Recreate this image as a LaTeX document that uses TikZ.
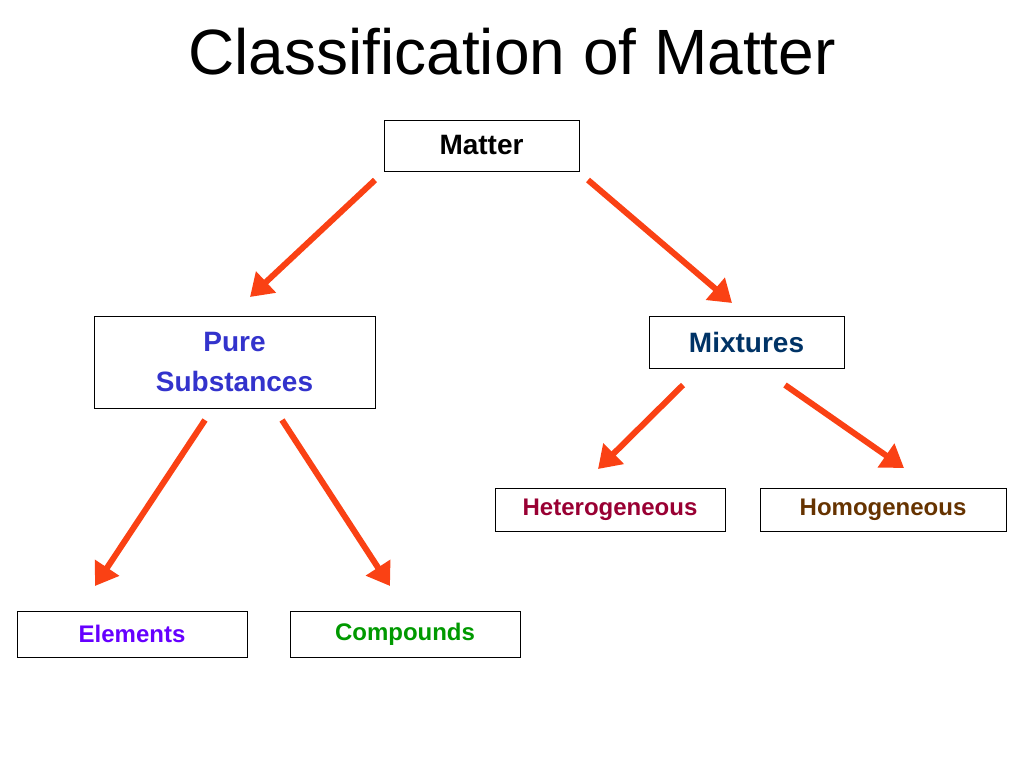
\documentclass[tikz,border=0pt]{standalone}
\usepackage{fontspec}
\setmainfont{Liberation Sans}
\usetikzlibrary{arrows.meta}
\definecolor{arr}{RGB}{250,65,20}
\definecolor{cpure}{RGB}{51,51,204}
\definecolor{cmix}{RGB}{0,51,102}
\definecolor{chet}{RGB}{153,0,51}
\definecolor{chom}{RGB}{102,51,0}
\definecolor{cel}{RGB}{102,0,255}
\definecolor{ccomp}{RGB}{0,153,0}
\begin{document}
\begin{tikzpicture}[x=1pt,y=-1pt,
  box/.style={draw,line width=0.8pt,font=\bfseries,align=center,inner sep=0pt},
  arw/.style={draw=arr,line width=6pt,-{Triangle[length=22pt,width=28pt]},fill=arr}]
\useasboundingbox (0,0) rectangle (1024,768);
\node[font=\fontsize{64}{70}\selectfont] (title) at (512,52) {Classification of Matter};
\node[box,minimum width=195pt,minimum height=51pt,font=\bfseries\fontsize{28}{30}\selectfont] (matter) at (481.5,145.5) {Matter};
\node[box,minimum width=281pt,minimum height=92pt,text=cpure,font=\bfseries\fontsize{28}{40}\selectfont] (pure) at (234.5,362) {Pure\\Substances};
\node[box,minimum width=195pt,minimum height=52pt,text=cmix,font=\bfseries\fontsize{28}{30}\selectfont] (mix) at (746.5,342) {Mixtures};
\node[box,minimum width=230pt,minimum height=43pt,text=chet,font=\bfseries\fontsize{24}{26}\selectfont] (het) at (610,509.5) {Heterogeneous};
\node[box,minimum width=246pt,minimum height=43pt,text=chom,font=\bfseries\fontsize{24}{26}\selectfont] (hom) at (883,509.5) {Homogeneous};
\node[box,minimum width=230pt,minimum height=46pt,text=cel,font=\bfseries\fontsize{24}{26}\selectfont] (el) at (132,634) {Elements};
\node[box,minimum width=230pt,minimum height=46pt,text=ccomp,font=\bfseries\fontsize{24}{26}\selectfont] (comp) at (405,634) {Compounds};
\coordinate (a1) at (375,180); \coordinate (b1) at (250,297);
\coordinate (a2) at (588,180); \coordinate (b2) at (732,303);
\coordinate (a3) at (205,420); \coordinate (b3) at (95,586);
\coordinate (a4) at (282,420); \coordinate (b4) at (390,586);
\coordinate (a5) at (683,385); \coordinate (b5) at (598,469);
\coordinate (a6) at (785,385); \coordinate (b6) at (904,468);
\foreach \i in {1,...,6} \draw[arw] (a\i) -- (b\i);
\end{tikzpicture}
\end{document}
